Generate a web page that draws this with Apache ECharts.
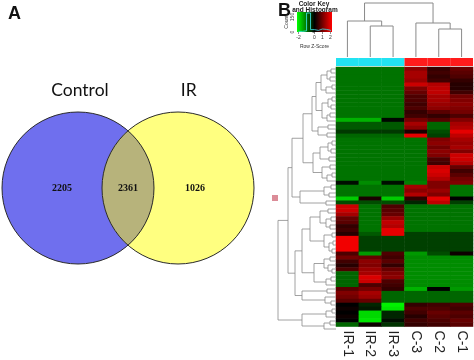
<!DOCTYPE html>
<html><head><meta charset="utf-8">
<script src="https://cdn.jsdelivr.net/npm/echarts@6/dist/echarts.min.js"></script>
<style>html,body{margin:0;padding:0;background:#fff}#c{width:474px;height:360px}</style>
</head><body><div id="c"></div>
<script>
// ---------- Panel A: Venn ----------
const vennSets = ['Control', 'IR'];
const vennCounts = [2205, 2361, 1026]; // Control only, shared, IR only

// ---------- Panel B: heatmap ----------
const sampleLabels = ['IR-1', 'IR-2', 'IR-3', 'C-3', 'C-2', 'C-1'];
const sampleGroups = ['IR', 'IR', 'IR', 'C', 'C', 'C'];
// row z-scores, top to bottom, columns in sampleLabels order
const zRows = [
  [-0.9,-0.9,-0.9, 1.1, 0.4, 0.8],
  [-0.9,-0.9,-0.9, 1.3, 0.5, 0.7],
  [-0.9,-0.9,-0.9, 1.3, 0.4, 0.6],
  [-0.9,-0.9,-0.9, 1.2, 0.5, 0.4],
  [-0.9,-0.9,-0.9, 1.6, 1.4, 0.3],
  [-0.9,-0.9,-0.9, 1.0, 1.5, 0.3],
  [-0.9,-0.9,-0.9, 0.8, 1.5, 0.5],
  [-0.9,-0.9,-0.9, 0.6, 1.3, 0.9],
  [-0.9,-0.9,-0.9, 0.6, 1.3, 1.0],
  [-0.9,-0.9,-0.9, 0.5, 1.2, 1.1],
  [-0.9,-0.9,-0.9, 0.6, 1.1, 1.0],
  [-0.9,-0.9,-0.9, 0.4, 0.7, 0.9],
  [-0.9,-0.9,-0.9, 0.5, 0.4, 0.6],
  [-1.4,-1.4,-0.05,0.9, 0.7, 1.0],
  [-0.7,-0.7,-0.7, 1.3,-0.8, 1.3],
  [-0.7,-0.7,-0.7, 1.1,-0.8, 1.4],
  [-0.45,-0.45,-0.45,0.2,-0.6,1.8],
  [-0.8,-0.8,-0.8, 1.8,-0.5, 1.5],
  [-0.9,-0.9,-0.9,-0.9, 1.0, 1.3],
  [-0.9,-0.9,-0.9,-0.9, 1.1, 1.2],
  [-0.9,-0.9,-0.9,-0.9, 0.9, 1.3],
  [-0.9,-0.9,-0.9,-0.9, 1.1, 1.0],
  [-0.9,-0.9,-0.9,-0.9, 1.0, 1.6],
  [-0.9,-0.9,-0.9,-0.9, 0.6, 1.6],
  [-0.9,-0.9,-0.9,-0.9, 0.5, 1.4],
  [-0.9,-0.9,-0.9,-0.9, 1.6, 0.8],
  [-0.9,-0.9,-0.9,-0.9, 1.7, 0.5],
  [-0.9,-0.9,-0.9,-0.9, 1.6, 0.7],
  [-0.9,-0.9,-0.9,-0.9, 1.4, 0.9],
  [-0.1,-1.1,-0.1,-1.0, 1.0, 1.0],
  [-0.9,-0.9,-0.9, 1.3, 1.0,-0.9],
  [-0.9,-0.9,-0.9, 1.1, 1.2,-0.9],
  [-0.9,-0.9,-0.9, 1.4, 1.0,-0.9],
  [-1.6, 0.2,-1.6, 0.4, 1.8, 0.0],
  [-0.6,-0.6,-0.6,-0.3, 1.5,-0.5],
  [ 1.6,-0.9, 0.6,-0.9,-0.9,-0.9],
  [ 1.6,-0.9, 0.7,-0.9,-0.9,-0.9],
  [ 1.3,-0.9, 0.8,-0.9,-0.9,-0.9],
  [ 0.8,-0.9, 1.2,-0.9,-0.9,-0.9],
  [ 0.7,-0.9, 1.5,-0.9,-0.9,-0.9],
  [ 0.4,-0.9, 1.4,-0.9,-0.9,-0.9],
  [ 0.5,-0.9, 1.8,-0.9,-0.9,-0.9],
  [ 0.3,-0.7, 1.8,-0.5,-0.5,-0.5],
  [ 1.9,-0.5,-0.5,-0.5,-0.5,-0.5],
  [ 1.9,-0.5,-0.5,-0.5,-0.5,-0.5],
  [ 1.9,-0.5,-0.5,-0.5,-0.5,-0.5],
  [ 1.9,-0.5,-0.5,-0.5,-0.5,-0.5],
  [ 0.6,-1.2, 0.6,-1.2,-0.6, 0.1],
  [ 0.9, 0.8, 0.5,-1.1,-1.1,-1.1],
  [ 0.5, 1.1, 0.7,-1.1,-1.1,-1.1],
  [ 0.3, 1.0, 0.4,-1.1,-1.1,-1.1],
  [ 0.6, 1.2, 0.8,-1.1,-1.1,-1.1],
  [-0.8, 1.3, 1.0,-1.1,-1.1,-1.1],
  [-0.8, 1.7, 1.1,-1.1,-1.1,-1.1],
  [-0.8, 1.6, 0.6,-1.1,-1.1,-1.1],
  [-0.8, 0.6, 0.5,-1.1,-1.1,-1.1],
  [ 0.7, 0.9, 0.4,-1.4, 0.0,-1.2],
  [ 1.0, 1.3,-0.8,-0.8,-0.8,-0.8],
  [ 0.9, 1.2,-0.8,-0.8,-0.8,-0.8],
  [ 0.7, 0.8,-0.8,-0.8,-0.8,-0.8],
  [ 0.0,-0.3,-1.9, 0.4, 0.5, 0.6],
  [ 0.1,-0.2,-1.8, 0.6, 0.6, 0.5],
  [ 0.0,-1.7,-0.3, 0.5, 0.8, 0.7],
  [ 0.1,-1.7,-0.3, 0.3, 0.7, 0.6],
  [ 0.0,-1.8,-0.1, 0.5, 0.6, 0.8],
  [-0.8, 0.1,-0.4, 0.4, 0.5, 0.7]
];
// dendrograms: [height, left, right]; leaves are column / row indices
const colTree = [54, [36, 0, [31, 1, 2]], [34, 3, [28, 4, 5]]];
const rowTree = [58,
  [48,
    [44,
      [33,
        [24,
          [20, [15, [9, [5, 0, 1], [6, 2, 3]], [10, [4, 4, 5], 6]],
               [14, [8, [4, 7, 8], [5, 9, 10]], [9, [6, 11, 12], 13]]],
          [18, [8, 14, 15], [9, 16, 17]]],
        [23, [16, [8, [4, 18, 19], [5, 20, 21]], [7, 22, 23]],
             [14, [6, 24, 25], [9, [4, 26, 27], 28]]]],
      [36, [12, [5, 29, 30], [7, 31, 32]], [10, 33, 34]]],
    [41,
      [34,
        [26, [16, [8, 35, 36], [10, [5, 37, 38], [6, 39, 40]]],
             [12, [4, 41, 42], [7, [3, 43, 44], [4, 45, 46]]]],
        [22, [12, [6, 47, 48], [8, 49, [4, 50, 51]]], [10, [5, 52, 53], 54]]],
      [34, [9, 55, 56], [11, 57, [5, 58, 59]]]]],
  [34, [10, [4, 60, 61], 62], [12, [6, 63, 64], 65]]];

// color key
const keyTicks = [-2, 0, 1, 2];
const keyHistBins = [-2, -1.5, -1, -0.5, 0, 0.5, 1, 1.5, 2];
const keyHistCounts = [6, 12, 190, 24, 16, 30, 26, 18, 8];
const keyCountTicks = [0, 150];

// ---------- build ----------
const rowIds = zRows.map((r, i) => 'g' + (i + 1));
const heatData = [];
zRows.forEach((r, i) => r.forEach((v, j) => heatData.push([j, i, v])));

function rowSegs(node, out) {
  if (typeof node === 'number') return [0, node + 0.5];
  const [h, a, b] = node;
  const pa = rowSegs(a, out), pb = rowSegs(b, out);
  out.push({coords: [[pa[0], pa[1]], [h, pa[1]], [h, pb[1]], [pb[0], pb[1]]]});
  return [h, (pa[1] + pb[1]) / 2];
}
function colSegs(node, out) {
  if (typeof node === 'number') return [node + 0.5, 0];
  const [h, a, b] = node;
  const pa = colSegs(a, out), pb = colSegs(b, out);
  out.push({coords: [[pa[0], pa[1]], [pa[0], h], [pb[0], h], [pb[0], pb[1]]]});
  return [(pa[0] + pb[0]) / 2, h];
}
const rowLines = []; rowSegs(rowTree, rowLines);
const colLines = []; colSegs(colTree, colLines);

const histLine = [];
keyHistCounts.forEach((c, i) => {
  histLine.push([keyHistBins[i], c]);
  histLine.push([keyHistBins[i + 1], c]);
});

const groupColor = {IR: '#22e3f2', C: '#ff1c1c'};

function vennRender(params, api) {
  const cL = api.coord([-0.658, 0]), cR = api.coord([0.658, 0]);
  const r = api.size([1, 1])[0];
  const half = (cR[0] - cL[0]) / 2;
  const dy = Math.sqrt(r * r - half * half);
  const th = Math.atan2(dy, half);
  const pts = [];
  const n = 40;
  for (let k = 0; k <= n; k++) {
    const t = -th + 2 * th * k / n;
    pts.push([cL[0] + r * Math.cos(t), cL[1] + r * Math.sin(t)]);
  }
  for (let k = 0; k <= n; k++) {
    const t = Math.PI - th + 2 * th * k / n;
    pts.push([cR[0] + r * Math.cos(t), cR[1] + r * Math.sin(t)]);
  }
  const txt = (p, s, font) => ({type: 'text', x: p[0], y: p[1],
    style: {text: s, font: font, fill: '#111', align: 'center', verticalAlign: 'middle',
            textAlign: 'center', textVerticalAlign: 'middle'}});
  const numFont = 'bold 10px "Liberation Serif"';
  const setFont = '17.5px Lato';
  return {type: 'group', children: [
    {type: 'circle', shape: {cx: cL[0], cy: cL[1], r: r}, style: {fill: '#6f6fee'}},
    {type: 'circle', shape: {cx: cR[0], cy: cR[1], r: r}, style: {fill: '#ffff80'}},
    {type: 'polygon', shape: {points: pts}, style: {fill: '#b7b37b'}},
    {type: 'circle', shape: {cx: cL[0], cy: cL[1], r: r}, style: {fill: null, stroke: '#2a2a2a', lineWidth: 1}},
    {type: 'circle', shape: {cx: cR[0], cy: cR[1], r: r}, style: {fill: null, stroke: '#2a2a2a', lineWidth: 1}},
    txt(api.coord([-0.87, 0]), String(vennCounts[0]), numFont),
    txt(api.coord([0, 0]), String(vennCounts[1]), numFont),
    txt(api.coord([0.88, 0]), String(vennCounts[2]), numFont),
    txt(api.coord([-0.632, 1.29]), vennSets[0], setFont),
    txt(api.coord([0.80, 1.29]), vennSets[1], setFont)
  ]};
}

const chart = echarts.init(document.getElementById('c'), null, {renderer: 'canvas'});
const tinyFont = '"Liberation Sans"';
chart.setOption({
  animation: false,
  backgroundColor: '#fff',
  grid: [
    {left: 2, top: 112, width: 252, height: 152},
    {left: 336, top: 67, width: 137, height: 264},
    {left: 336, top: 2, width: 137, height: 55},
    {left: 278, top: 67, width: 58, height: 264},
    {left: 336, top: 58, width: 137, height: 8},
    {left: 297, top: 12, width: 35, height: 20}
  ],
  xAxis: [
    {gridIndex: 0, type: 'value', min: -1.658, max: 1.658, show: false},
    {gridIndex: 1, type: 'category', data: sampleLabels,
      axisLine: {show: false}, axisTick: {show: false}, splitLine: {show: false},
      axisLabel: {rotate: -90, fontSize: 14, color: '#222', margin: 4, fontFamily: tinyFont}},
    {gridIndex: 2, type: 'value', min: 0, max: 6, show: false},
    {gridIndex: 3, type: 'value', min: 0, max: 58, inverse: true, show: false},
    {gridIndex: 4, type: 'category', data: sampleLabels, show: false},
    {gridIndex: 5, type: 'value', min: -2.2, max: 2.2, splitLine: {show: false},
      axisLine: {show: false},
      axisTick: {show: true, length: 2, lineStyle: {color: '#444', width: 0.6}, customValues: keyTicks},
      axisLabel: {fontSize: 5, color: '#333', margin: 3, customValues: keyTicks, fontFamily: tinyFont},
      name: 'Row Z-Score', nameLocation: 'middle', nameGap: 12,
      nameTextStyle: {fontSize: 5, color: '#333', fontFamily: tinyFont}}
  ],
  yAxis: [
    {gridIndex: 0, type: 'value', min: -1, max: 1, show: false},
    {gridIndex: 1, type: 'category', data: rowIds, inverse: true, show: false},
    {gridIndex: 2, type: 'value', min: 0, max: 55, show: false},
    {gridIndex: 3, type: 'value', min: 0, max: 66, inverse: true, show: false},
    {gridIndex: 4, type: 'value', min: 0, max: 1, show: false},
    {gridIndex: 5, type: 'value', min: 0, max: 200, splitLine: {show: false},
      axisLine: {show: false},
      axisTick: {show: true, length: 2, lineStyle: {color: '#444', width: 0.6}, customValues: keyCountTicks},
      axisLabel: {fontSize: 5, color: '#333', margin: 2, rotate: 90, customValues: keyCountTicks, fontFamily: tinyFont},
      name: 'Count', nameLocation: 'middle', nameGap: 8, nameRotate: 90,
      nameTextStyle: {fontSize: 5, color: '#333', fontFamily: tinyFont}}
  ],
  visualMap: {type: 'continuous', min: -2, max: 2, show: false, seriesIndex: 1,
    inRange: {color: ['#00ff00', '#000000', '#ff0000']}},
  graphic: [
    {type: 'text', left: 8, top: 5, style: {text: 'A', font: 'bold 18px "Liberation Sans"', fill: '#111'}},
    {type: 'text', left: 278, top: 2, style: {text: 'B', font: 'bold 18px "Liberation Sans"', fill: '#111'}},
    {type: 'rect', left: 272, top: 195, shape: {width: 6, height: 6}, style: {fill: '#db8c98'}},
    {type: 'rect', z: 1, shape: {x: 297, y: 12, width: 35, height: 20},
      style: {fill: new echarts.graphic.LinearGradient(0, 0, 1, 0, [
        {offset: 0, color: '#00ff00'}, {offset: 0.5, color: '#000000'}, {offset: 1, color: '#ff0000'}])}},
    {type: 'text', x: 314, y: 4, style: {text: 'Color Key', font: 'bold 6.5px "Liberation Sans"', fill: '#222',
      align: 'center', verticalAlign: 'middle', textAlign: 'center', textVerticalAlign: 'middle'}},
    {type: 'text', x: 315, y: 10.5, style: {text: 'and Histogram', font: 'bold 6.5px "Liberation Sans"', fill: '#222',
      align: 'center', verticalAlign: 'middle', textAlign: 'center', textVerticalAlign: 'middle'}}
  ],
  series: [
    {type: 'custom', xAxisIndex: 0, yAxisIndex: 0, data: [[0, 0]], renderItem: vennRender, silent: true},
    {type: 'heatmap', xAxisIndex: 1, yAxisIndex: 1, data: heatData, silent: true,
      itemStyle: {borderWidth: 0}, emphasis: {disabled: true}},
    {type: 'lines', coordinateSystem: 'cartesian2d', xAxisIndex: 2, yAxisIndex: 2, polyline: true,
      data: colLines, silent: true, lineStyle: {color: '#8a8a8a', width: 1, opacity: 1}},
    {type: 'lines', coordinateSystem: 'cartesian2d', xAxisIndex: 3, yAxisIndex: 3, polyline: true,
      data: rowLines, silent: true, lineStyle: {color: '#8a8a8a', width: 0.8, opacity: 1}},
    {type: 'bar', xAxisIndex: 4, yAxisIndex: 4, barWidth: '100%', barCategoryGap: 0, silent: true,
      data: sampleGroups.map(g => ({value: 1, itemStyle: {color: groupColor[g]}}))},
    {type: 'line', xAxisIndex: 5, yAxisIndex: 5, data: histLine, symbol: 'none', silent: true, z: 5,
      lineStyle: {color: '#3fe7f0', width: 0.8}}
  ]
});
</script>
</body></html>
